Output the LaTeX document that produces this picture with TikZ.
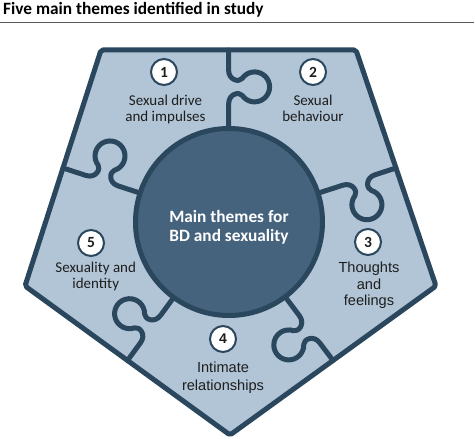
\documentclass[tikz,border=0pt]{standalone}
\usepackage{fontspec}
\setmainfont{Carlito}
\newfontfamily\arialf{Liberation Sans}
\usetikzlibrary{calc}
\definecolor{edgeblue}{HTML}{2B475E}
\definecolor{lightfill}{HTML}{B1C5D6}
\definecolor{hubfill}{HTML}{46637E}
\definecolor{labeltxt}{HTML}{1E1E1E}
\newcommand\jigsaw[3]{%
  \pgfmathanglebetweenpoints{\pgfpointanchor{#1}{center}}{\pgfpointanchor{#2}{center}}%
  \let\jAng\pgfmathresult
  \pgfpointdiff{\pgfpointanchor{#1}{center}}{\pgfpointanchor{#2}{center}}%
  \pgfgetlastxy{\jX}{\jY}%
  \pgfmathsetmacro\jLen{veclen(\jX,\jY)}%
  \begin{scope}[shift={(#1)}, rotate=\jAng]
    \draw[conn] (0,0) -- (#3-17,0) .. controls (#3-6.5,0) and (#3-4.5,10.84) .. (#3-8.6,13.71)
      arc[start angle=235, end angle=-55, radius=15]
      .. controls (#3+4.5,10.84) and (#3+6.5,0) .. (#3+17,0) -- (\jLen,0);
  \end{scope}}
\begin{document}
\begin{tikzpicture}[x=1pt,y=1pt,
  conn/.style={draw=edgeblue, line width=5, line cap=round, line join=round},
  border/.style={draw=edgeblue, line width=5, line join=round, rounded corners=2},
  numc/.style={circle, draw=edgeblue, line width=2, fill=white, minimum size=26, inner sep=0,
    text=labeltxt, font=\fontsize{15.5}{16}\selectfont\bfseries},
  lab/.style={inner sep=0, align=center, text=labeltxt, anchor=base},
  calab/.style={lab, font=\fontsize{15}{16}\selectfont},
  arlab/.style={lab, font=\arialf\fontsize{14.6}{16.5}\selectfont}]
\useasboundingbox (0,0) rectangle (474,441);
\fill[white] (0,0) rectangle (474,441);
\node[anchor=base west, inner sep=0, font=\fontsize{17.3}{20}\selectfont\bfseries] (title) at (3,426) {Five main themes identified in study};
\coordinate (r1) at (0,418.7);
\coordinate (r2) at (474,418.7);
\draw[black!65, line width=1] (r1) -- (r2);
% pentagon
\coordinate (TL) at (101,391);
\coordinate (TR) at (356,391);
\coordinate (R) at (436,155);
\coordinate (B) at (230,6);
\coordinate (L) at (25,155);
\fill[lightfill] (TL) -- (TR) -- (R) -- (B) -- (L) -- cycle;
% hub
\coordinate (C) at (229,219);
\coordinate (e12) at ($(TL)!0.5!(TR)$);
\coordinate (e23) at ($(R)!0.5!(TR)$);
\coordinate (e34) at ($(R)!0.5!(B)$);
\coordinate (e45) at ($(L)!0.5!(B)$);
\coordinate (e51) at ($(L)!0.5!(TL)$);
\jigsaw{e12}{C}{37}
\jigsaw{e23}{C}{39}
\jigsaw{e34}{C}{39}
\jigsaw{e45}{C}{39}
\jigsaw{e51}{C}{41}
\draw[border] (TL) -- (TR) -- (R) -- (B) -- (L) -- cycle;
\node[circle, fill=hubfill, draw=edgeblue, line width=5, minimum size=187, inner sep=0] (hub) at (C) {};
\node[lab, text=white, font=\fontsize{17.3}{19}\selectfont\bfseries] (hubtext) at (229,199) {Main themes for\\BD and sexuality};
% numbers
\node[numc] (n1) at (164,369) {1};
\node[numc] (n2) at (313,369) {2};
\node[numc] (n3) at (368,199) {3};
\node[numc, font=\arialf\fontsize{14}{16}\selectfont\bfseries] (n4) at (223,102) {4};
\node[numc] (n5) at (91,198) {5};
% labels
\node[calab] (l1) at (165.5,319) {Sexual drive\\and impulses};
\node[calab] (l2) at (313,319) {Sexual\\behaviour};
\node[arlab] (l3) at (369,135) {Thoughts\\and\\feelings};
\node[arlab, font=\arialf\fontsize{14.6}{18}\selectfont] (l4) at (223,50) {Intimate\\relationships};
\node[calab] (l5) at (95.7,152) {Sexuality and\\identity};
\end{tikzpicture}
\end{document}
